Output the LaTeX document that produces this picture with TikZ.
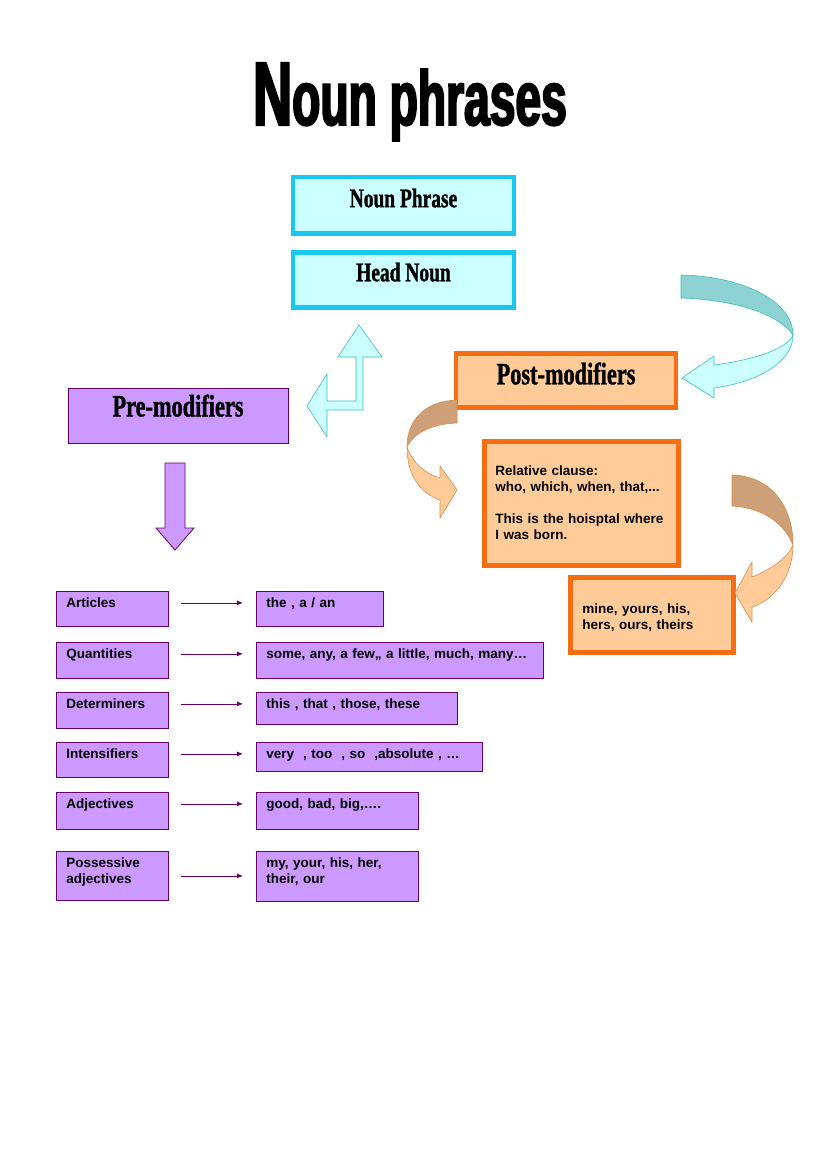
\documentclass[tikz,border=0pt]{standalone}
\usepackage{fontspec}
\setmainfont{Liberation Sans}
\newfontfamily\condserif[FakeStretch=0.72,FakeBold=1.2]{Liberation Serif}
\newfontfamily\titlefont[FakeStretch=0.6,FakeBold=2.5]{Liberation Sans}
\usepackage{xcolor}
\usepackage{tikz}
\usetikzlibrary{arrows.meta}

\definecolor{npline}{RGB}{25,200,240}
\definecolor{npfill}{RGB}{204,255,255}
\definecolor{orline}{RGB}{245,110,20}
\definecolor{peach}{RGB}{255,204,153}
\definecolor{lilac}{RGB}{204,153,255}
\definecolor{plum}{RGB}{102,0,102}
\definecolor{tealedge}{RGB}{60,190,190}
\definecolor{tealback}{RGB}{140,210,210}
\definecolor{tanedge}{RGB}{220,140,70}
\definecolor{tanback}{RGB}{205,160,120}

\tikzset{
  headbox/.style={draw=npline, fill=npfill, line width=4.5pt, minimum width=221pt, inner ysep=0pt,
    text height=30pt, text depth=26pt, anchor=north, font=\condserif\bfseries\fontsize{27}{30}\selectfont},
  postbox/.style={draw=orline, fill=peach, line width=4.5pt, minimum width=220pt, inner ysep=0pt,
    text height=31pt, text depth=23pt, anchor=north, font=\condserif\bfseries\fontsize{31}{34}\selectfont},
  prebox/.style={draw=plum, fill=lilac, line width=0.8pt, minimum width=220pt, inner ysep=0pt,
    text height=28pt, text depth=27pt, anchor=north, font=\condserif\bfseries\fontsize{31}{34}\selectfont},
  peachbox/.style={draw=orline, fill=peach, line width=4.5pt, anchor=north west, align=left,
    inner xsep=11pt, inner ysep=4pt, font=\bfseries\fontsize{13.5}{16}\selectfont},
  lbox/.style={draw=plum, fill=lilac, line width=0.8pt, anchor=north west, align=left,
    inner xsep=10pt, inner ysep=4pt, text height=12.5pt, font=\bfseries\fontsize{13.5}{16}\selectfont},
  lnk/.style={draw=plum, line width=0.8pt, -{Latex[length=6pt,width=5pt]}, shorten <=12pt, shorten >=13pt},
  blockarrow/.style={draw=#1, line width=0.6pt, line join=round}
}

\begin{document}
\begin{tikzpicture}[x=1pt,y=-1pt]
\useasboundingbox[fill=white] (0,0) rectangle (826,1169);

\node[anchor=base, font=\titlefont\bfseries\fontsize{77}{80}\selectfont] at (410,125) (title)
  {{\fontsize{90}{90}\selectfont N}oun phrases};

\node[headbox] at (403.5,175) (np) {Noun Phrase};
\node[headbox, text height=29pt] at (403.5,250) (hn) {Head Noun};
\node[prebox] at (178,388) (pre) {Pre-modifiers};
\node[postbox] at (566,351) (post) {Post-modifiers};

\node[peachbox, text width=172pt, text height=30pt, text depth=86pt] at (482,439) (rel)
  {Relative clause:\\who, which, when, that,...\\[16pt]This is the hoisptal where\\I was born.};
\node[peachbox, text width=139pt, inner xsep=12pt, text height=32pt, text depth=35pt] at (568,575) (poss)
  {mine, yours, his,\\hers, ours, theirs};

% bent arrow up to the head noun
\filldraw[fill=npfill, blockarrow=tealedge] (359,325) -- (382,357) -- (363,357) -- (363,410) -- (327,410)
  -- (327,437) -- (307,406) -- (327,374) -- (327,401) -- (356,401) -- (356,357) -- (338,357) -- cycle;

% curved arrows
\filldraw[fill=tealback, blockarrow=tealedge] (681,275) .. controls (740,276) and (793,300) .. (793,335)
  .. controls (780,316) and (740,300) .. (681,298) -- cycle;
\filldraw[fill=npfill, blockarrow=tealedge] (793,335) .. controls (793,362) and (758,382) .. (714,388)
  -- (714,398) -- (682,378) -- (714,356) -- (714,365) .. controls (752,360) and (786,350) .. (793,335) -- cycle;

\filldraw[fill=tanback, blockarrow=tanedge] (457,400) .. controls (425,401) and (407,420) .. (407,447)
  .. controls (415,432) and (432,424) .. (457,423) -- cycle;
\filldraw[fill=peach, blockarrow=tanedge] (407,447) .. controls (407,475) and (420,493) .. (440,500)
  -- (440,518) -- (457,490) -- (440,466) -- (440,478) .. controls (425,474) and (412,462) .. (407,447) -- cycle;

\filldraw[fill=tanback, blockarrow=tanedge] (732,475) .. controls (770,476) and (793,505) .. (793,545)
  .. controls (785,525) and (765,508) .. (732,506) -- cycle;
\filldraw[fill=peach, blockarrow=tanedge] (793,545) .. controls (793,575) and (775,600) .. (752,607)
  -- (752,622) -- (735,593) -- (752,562) -- (752,577) .. controls (770,570) and (788,558) .. (793,545) -- cycle;

% arrow down to the list
\filldraw[fill=lilac, draw=plum, line width=0.8pt] (165,463) -- (185,463) -- (185,528) -- (194,528)
  -- (175,550) -- (156,528) -- (165,528) -- cycle;

\node[lbox, text width=92pt, text depth=14.5pt] at (56,591) (art) {Articles};
\node[lbox, text width=92pt, text depth=15.5pt] at (56,642) (quant) {Quantities};
\node[lbox, text width=92pt, text depth=15.5pt] at (56,692) (det) {Determiners};
\node[lbox, text width=92pt, text depth=14.5pt] at (56,742) (int) {Intensifiers};
\node[lbox, text width=92pt, text depth=16.5pt] at (56,792) (adj) {Adjectives};
\node[lbox, text width=92pt, text depth=28.5pt] at (56,851) (padj) {Possessive\\adjectives};

\node[lbox, text width=107pt, text depth=14.5pt] at (256,591) (the) {the , a / an};
\node[lbox, text width=267pt, text depth=15.5pt] at (256,642) (some) {some, any, a few,, a little, much, many…};
\node[lbox, text width=181pt, text depth=11.5pt] at (256,692) (this) {this , that , those, these};
\node[lbox, text width=206pt, text depth=8.5pt] at (256,742) (very) {very\ \ , too\ \ , so\ \ ,absolute , …};
\node[lbox, text width=142pt, text depth=16.5pt] at (256,792) (good) {good, bad, big,….};
\node[lbox, text width=142pt, text depth=29.5pt] at (256,851) (my) {my, your, his, her,\\their, our};

\draw[lnk] ([yshift=5pt]art.base east) -- ([yshift=5pt]the.base west);
\draw[lnk] ([yshift=5pt]quant.base east) -- ([yshift=5pt]some.base west);
\draw[lnk] ([yshift=5pt]det.base east) -- ([yshift=5pt]this.base west);
\draw[lnk] ([yshift=5pt]int.base east) -- ([yshift=5pt]very.base west);
\draw[lnk] ([yshift=5pt]adj.base east) -- ([yshift=5pt]good.base west);
\draw[lnk] ([yshift=-8pt]padj.base east) -- ([yshift=-8pt]my.base west);
\end{tikzpicture}
\end{document}
